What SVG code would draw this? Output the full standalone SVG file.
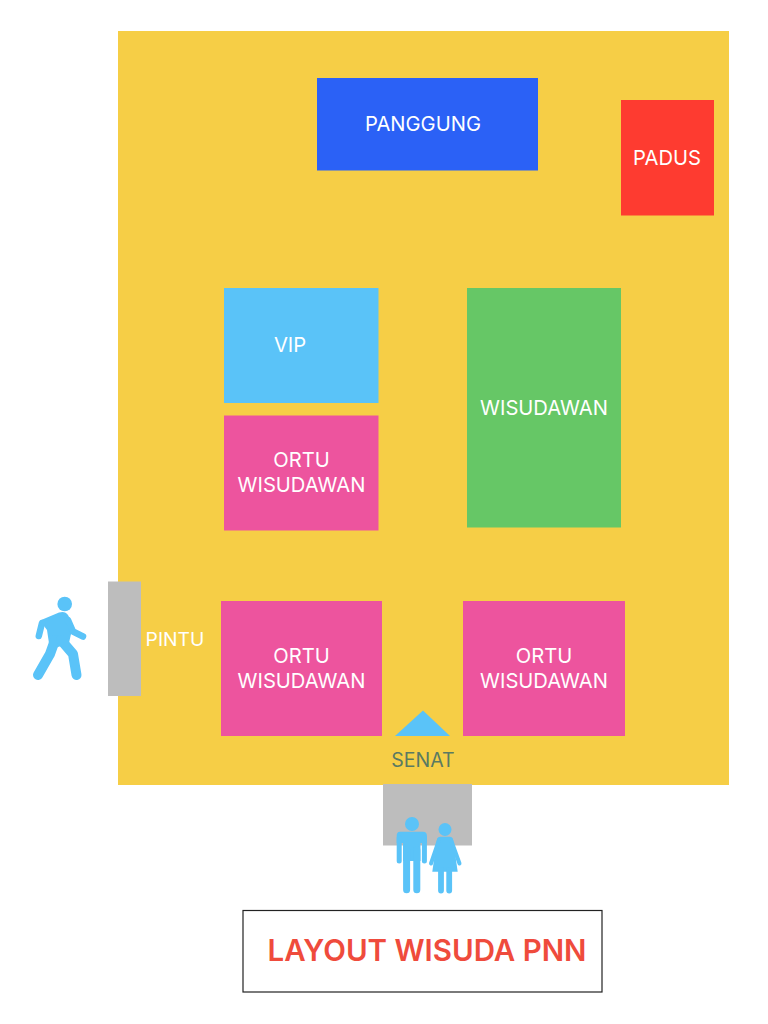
<svg xmlns="http://www.w3.org/2000/svg" width="768" height="1024" viewBox="0 0 768 1024">
<style>
text{font-family:Inter,"Liberation Sans",sans-serif;font-size:20.200px;fill:#fff;text-anchor:middle}
.pink{fill:#ed549e}.gray{fill:#bdbdbd}.icon{fill:#5ac3f8}
.limb{fill:none;stroke:#5ac3f8;stroke-linecap:round;stroke-linejoin:round}
</style>
<rect width="768" height="1024" fill="#fff"/>
<rect id="hall" x="118" y="31" width="611" height="754" fill="#f6ce46"/>
<g id="panggung"><rect x="317" y="78" width="221" height="92.500" fill="#2b61f6"/><text x="423" y="131">PANGGUNG</text></g>
<g id="padus"><rect x="621" y="100" width="93" height="115.500" fill="#fe3b30"/><text x="667" y="165">PADUS</text></g>
<g id="vip"><rect x="224" y="288" width="154.500" height="115" fill="#5ac3f8"/><text x="290" y="352">VIP</text></g>
<g id="wisudawan"><rect x="467" y="288" width="154" height="239.500" fill="#66c766"/><text x="544" y="414.500">WISUDAWAN</text></g>
<g id="ortu1"><rect class="pink" x="224" y="415.500" width="154.500" height="115"/><text x="301.500" y="467">ORTU</text><text x="301.500" y="491.500">WISUDAWAN</text></g>
<g id="ortu2"><rect class="pink" x="221" y="601" width="161" height="135"/><text x="301.500" y="663">ORTU</text><text x="301.500" y="687.500">WISUDAWAN</text></g>
<g id="ortu3"><rect class="pink" x="463" y="601" width="162" height="135"/><text x="544" y="663">ORTU</text><text x="544" y="687.500">WISUDAWAN</text></g>
<g id="pintu"><rect class="gray" x="108" y="581.500" width="33" height="114.500"/><text x="175" y="645.500" style="font-size:19.300px">PINTU</text></g>
<g id="senat"><polygon class="icon" points="395,736 423,710.500 450,736"/><text x="423" y="766.500" style="fill:#5a7a62;font-size:19.500px">SENAT</text></g>
<rect id="entrance" class="gray" x="383" y="784" width="89" height="61.500"/>
<g id="walker">
<circle class="icon" cx="64.700" cy="604" r="7.300"/>
<path class="icon" d="M40 620.500 L59 612.500 Q65 610.500 68 615 L73 625 L69 643 L50 650 L47 630Z"/>
<path class="limb" stroke-width="6.500" d="M42 623 L38.800 636"/>
<path class="limb" stroke-width="6.500" d="M68 620 L73 631.500 L83 636.500"/>
<path class="limb" stroke-width="10" d="M55 640 L50 654 L38 675"/>
<path class="limb" stroke-width="10" d="M61 640 L73 654 L76.500 675"/>
</g>
<g id="man">
<circle class="icon" cx="412" cy="824" r="7"/>
<path class="icon" d="M400 831.700 H423 Q426.900 831.700 426.900 835.500 V843 H420.500 V861 H403 V843 H396.700 V835.500 Q396.700 831.700 400 831.700Z"/>
<path class="limb" stroke-width="5" d="M399.200 838 V861 M424.400 838 V861"/>
<path class="limb" stroke-width="7" d="M406.600 850 V889.700 M416.800 850 V889.700"/>
</g>
<g id="woman">
<circle class="icon" cx="445" cy="829.500" r="6.500"/>
<path class="icon" d="M440 836.700 H450 Q452 836.700 453 839 L457.700 871.700 H432.300 L437 839 Q438 836.700 440 836.700Z"/>
<path class="limb" stroke-width="4" d="M439 840 L431 863.500 M451 840 L459.500 863.500"/>
<path class="limb" stroke-width="5.800" d="M441 870 V890.500 M449.200 870 V890.500"/>
</g>
<g id="title"><rect x="243" y="910.500" width="359" height="81.500" fill="#fff" stroke="#222" stroke-width="1.200"/><text x="427" y="961" style="font-size:29.500px;font-weight:600;fill:#ef4b3c">LAYOUT WISUDA PNN</text></g>
</svg>
